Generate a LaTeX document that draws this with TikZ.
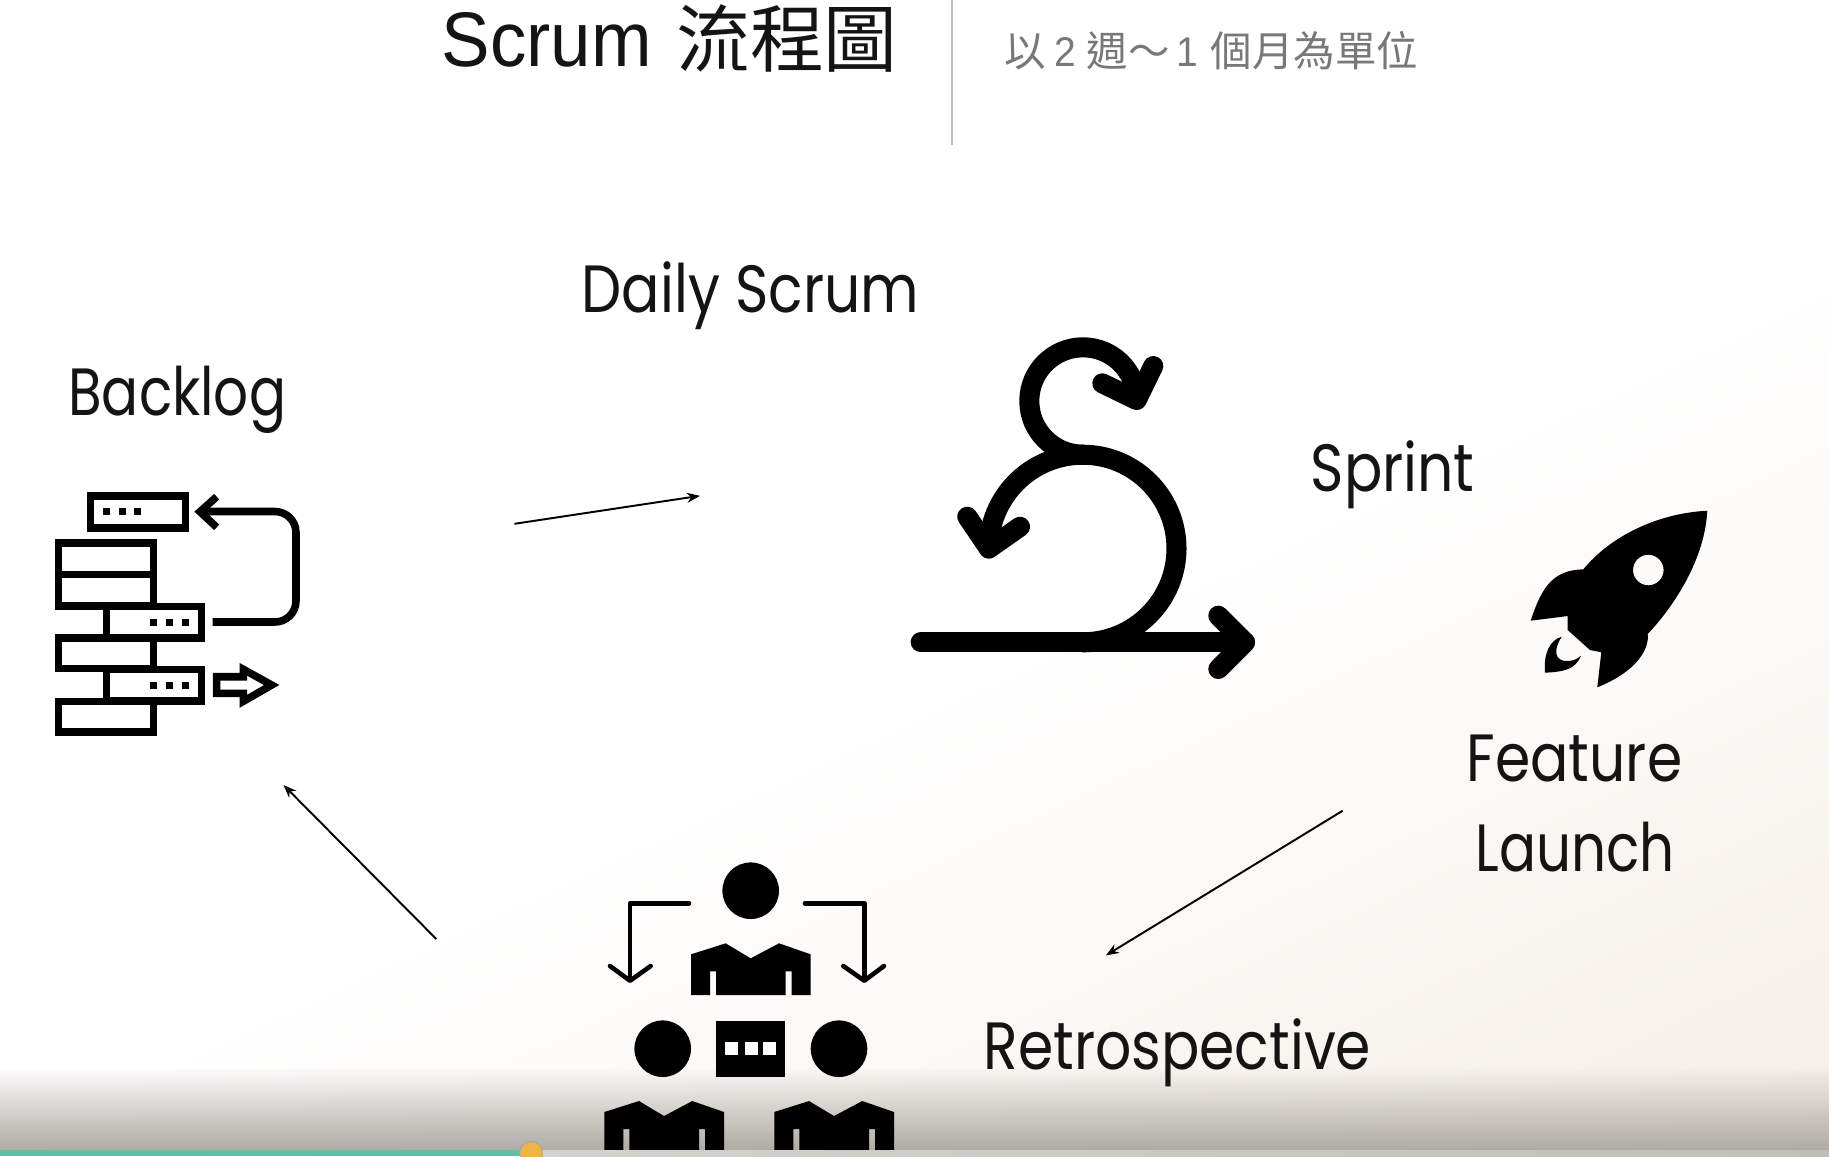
\documentclass[tikz,border=0pt]{standalone}
\usepackage{xcolor}
\usepackage{fontspec}
\usetikzlibrary{arrows.meta,fadings}
\setmainfont{Poppins}[FakeStretch=0.85]
\newfontfamily\tightfont{Poppins}[FakeStretch=0.82]
\newfontfamily\titlefont{Liberation Sans}[FakeStretch=0.94]
\newfontfamily\cjk{Noto Sans CJK TC}
\definecolor{bgwarm}{RGB}{244, 237, 230}
\definecolor{bandgray}{RGB}{174, 170, 164}
\definecolor{inktext}{RGB}{20, 20, 20}
\definecolor{subgray}{RGB}{120, 120, 120}
\definecolor{rulegray}{RGB}{190, 190, 190}
\definecolor{barteal}{RGB}{101, 188, 164}
\definecolor{trackleft}{RGB}{211, 210, 206}
\definecolor{trackright}{RGB}{192, 190, 184}
\definecolor{knobyellow}{RGB}{238, 181, 68}
\pgfdeclarehorizontalshading{pagewash}{100bp}{color(0bp)=(white); color(54bp)=(white); color(84bp)=(bgwarm); color(100bp)=(bgwarm)}
\tikzfading[name=bandfade, top color=transparent!100, bottom color=transparent!0]
\tikzset{
  x=0.01cm, y=-0.01cm,
  stagelabel/.style={anchor=base west, inner sep=0pt, text=inktext, font=\fontsize{19}{19}\selectfont},
  stagetight/.style={stagelabel, font=\tightfont\fontsize{19}{19}\selectfont},
  thinarrow/.style={line width=0.55pt, -{Stealth[length=1.3mm,width=1mm]}},
  listline/.style={line width=2.15pt, miter limit=10},
  loopline/.style={line width=5.7pt, line cap=round, line join=round},
  teamline/.style={line width=1.3pt, line cap=round, line join=round},
  personbody/.pic={
    \fill (-59.7,-4) -- (-25,-15) -- (0,0) -- (28.3,-15) -- (60,-4) -- (60,36.7) -- (41,36.7)
      -- (41,13) -- (35,13) -- (35,36.7) -- (-34.7,36.7) -- (-34.7,13) -- (-40.7,13)
      -- (-40.7,36.7) -- (-59.7,36.7) -- cycle;
  },
}
\begin{document}
\begin{tikzpicture}
  \useasboundingbox (0,0) rectangle (1829,1156);
  \shade[shading=pagewash, shading angle=-65] (0,0) rectangle (1829,1156);
  \fill[bandgray, path fading=bandfade] (0,1067) rectangle (1829,1151);

  % title
  \node[anchor=base west, inner sep=0pt, text=inktext, font=\titlefont\fontsize{22}{22}\selectfont] (title) at (441,66.5) {Scrum\hspace{1.2pt} {\cjk\fontsize{21}{21}\selectfont 流程圖}};
  \node[anchor=base west, inner sep=0pt, text=subgray, font=\titlefont\fontsize{11.8}{12}\selectfont] (subtitle) at (1004,66) {{\cjk 以}\hspace{2.3pt}2\hspace{3pt}{\cjk 週～}\hspace{2pt}1\hspace{3.5pt}{\cjk 個月為單位}};
  \draw[rulegray, line width=0.45pt] (952,0) coordinate (ruletop) -- (952,145) coordinate (rulebot);

  % labels
  \node[stagetight] (backlog) at (67.7,415) {Backlog};
  \node[stagelabel] (daily) at (581,312.6) {Daily Scrum};
  \node[stagelabel] (sprint) at (1310,491) {Sprint};
  \node[stagelabel] (feature) at (1466,781.5) {Feature};
  \node[stagetight] (launch) at (1475,871) {Launch};
  \node[stagelabel] (retro) at (983,1069.7) {Retrospective};

  % backlog icon
  \draw[listline] (90.3,496) rectangle (185.7,528);
  \draw[listline] (58.7,543) rectangle (153.7,605.7);
  \draw[listline] (58.7,574.3) -- (153.7,574.3);
  \draw[listline] (106.3,606.3) rectangle (201.3,637.7);
  \draw[listline] (58.7,637.7) rectangle (153.7,668.3);
  \draw[listline] (106.3,669.3) rectangle (201.3,700.7);
  \draw[listline] (58.7,701.3) rectangle (153.7,732);
  \foreach \dotx in {106.3,122,137.7}
    \fill (\dotx-3.5,508.2) rectangle (\dotx+3.5,515.2);
  \foreach \dotx in {153.7,169.3,185} {
    \fill (\dotx-3.5,618.5) rectangle (\dotx+3.5,625.5);
    \fill (\dotx-3.5,681.5) rectangle (\dotx+3.5,688.5);
  }
  \draw[listline, rounded corners=6pt] (212.7,622) -- (296,622) -- (296,511.5) -- (200,511.5);
  \draw[listline] (216.7,496.7) -- (200,511.7) -- (216.7,527.3);
  \draw[listline] (216.7,676.7) -- (243.3,676.7) -- (243.3,669.3) -- (271.7,685) -- (243.3,701.3) -- (243.3,693.3) -- (216.7,693.3) -- cycle;

  % sprint icon
  \draw[loopline] (920.7,642.3) -- (1245,642.3);
  \draw[loopline] (1218.3,615.7) -- (1245,642.3) -- (1218.3,669);
  \draw[loopline] (1082.7,642.3) arc[start angle=90, end angle=-180, radius=93.8];
  \draw[loopline] (967.3,516.7) -- (988.9,548.5) -- (1020,526.7);
  \draw[loopline] (1083,454.7) arc[start angle=90, end angle=358, radius=53.7];
  \draw[loopline] (1153.3,366) -- (1136.7,400) -- (1102.3,383.3);

  % rocket
  \fill[even odd rule] (1707.3,510.7) .. controls (1705,556.7) and (1676.7,603.3) .. (1647.7,634)
    .. controls (1649.3,646.7) and (1640,670) .. (1597.3,687.3) -- (1601.3,652.3) -- (1590,650)
    -- (1567.7,630) -- (1567.7,616) -- (1530.7,620.7)
    .. controls (1541.7,586.7) and (1553.3,570) .. (1583.3,569.3)
    .. controls (1610,536.7) and (1656.7,513.3) .. (1707.3,510.7) -- cycle
    (1648.3,570) circle[radius=15.3];
  \fill (1545,672.7) .. controls (1543.3,653.3) and (1550,640) .. (1561.7,636.7)
    .. controls (1555,646.7) and (1553.3,658.3) .. (1563.3,660.7)
    .. controls (1571.7,661.7) and (1576,660) .. (1581,655.7)
    .. controls (1575,670) and (1563.3,671.7) .. (1545,672.7) -- cycle;

  % retrospective icon
  \fill (750.7,890.7) circle[radius=28.3];
  \fill (662.7,1048.7) circle[radius=28.3];
  \fill (839,1048.7) circle[radius=28.3];
  \pic at (750.7,958.3) {personbody};
  \pic at (664,1116) {personbody};
  \pic at (834,1116) {personbody};
  \fill (716,1020.7) rectangle (785.3,1076.7);
  \foreach \dotx in {725.3,744.7,763.3}
    \fill[white] (\dotx,1042.3) rectangle (\dotx+13,1055);
  \draw[teamline] (689,903.3) -- (630,903.3) -- (630,980);
  \draw[teamline] (610,966) -- (630,980.7) -- (650.7,966);
  \draw[teamline] (805,903.3) -- (864.3,903.3) -- (864.3,980);
  \draw[teamline] (843.3,966) -- (864.3,980.7) -- (884,966);

  % connectors
  \coordinate (backlogout) at (514.4,523.8);
  \coordinate (dailyin) at (699.9,495.8);
  \coordinate (launchout) at (1342.7,810.7);
  \coordinate (retroin) at (1105.9,955.4);
  \coordinate (retroout) at (436.3,939);
  \coordinate (backlogin) at (283.5,785);
  \draw[thinarrow] (backlogout) -- (dailyin);
  \draw[thinarrow] (launchout) -- (retroin);
  \draw[thinarrow] (retroout) -- (backlogin);

  % progress bar
  \shade[left color=trackleft, right color=trackright] (531,1150) rectangle (1829,1156);
  \fill[barteal] (0,1150) rectangle (531,1156);
  \draw[fill=knobyellow, draw=gray!70, line width=0.3pt] (531,1153) circle[radius=11.5];
\end{tikzpicture}
\end{document}
